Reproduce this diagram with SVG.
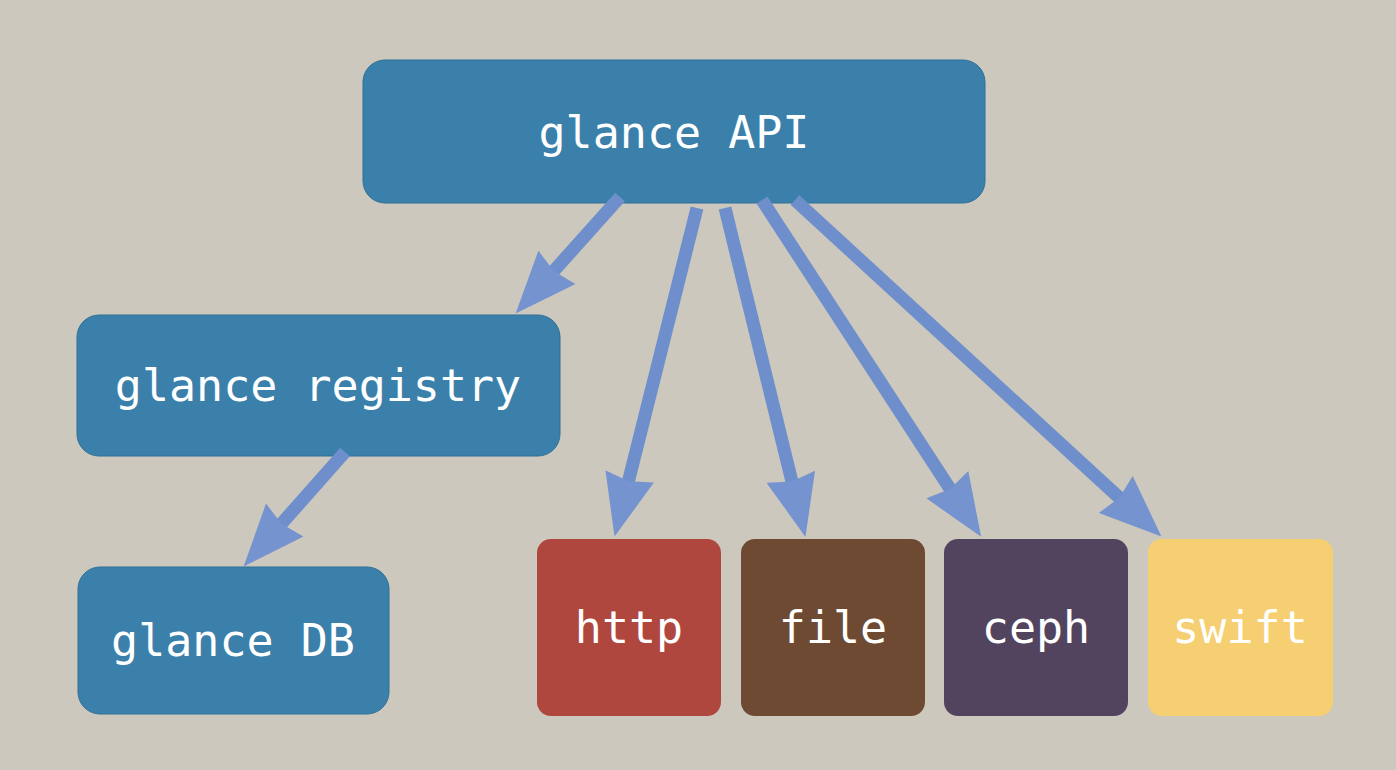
<svg xmlns="http://www.w3.org/2000/svg" width="1396" height="770" viewBox="0 0 1396 770">
<style>
.b{fill:#3b80aa;stroke:#2f6f95;stroke-width:1}
text{font-family:"DejaVu Sans Mono",monospace;font-size:45px;fill:#fff;text-anchor:middle;dominant-baseline:central}
.c line{stroke:#6e8fcb;stroke-width:13;marker-end:url(#h)}
</style>
<defs>
<marker id="h" markerUnits="userSpaceOnUse" markerWidth="62" markerHeight="50" refX="15" refY="25" orient="auto" viewBox="0 0 62 50">
<path d="M0,0 L62,25 L0,50 L5,25 z" fill="#7593cf"/>
</marker>
</defs>
<rect width="1396" height="770" fill="#cdc8bd"/>
<g id="api"><rect class="b" x="363" y="60" width="622" height="143" rx="22"/><text x="674" y="132">glance API</text></g>
<g id="registry"><rect class="b" x="77" y="315" width="483" height="141" rx="22"/><text x="318" y="385">glance registry</text></g>
<g id="db"><rect class="b" x="78" y="567" width="311" height="147" rx="22"/><text x="233" y="640">glance DB</text></g>
<g id="http"><rect x="537" y="539" width="184" height="177" rx="14" fill="#b0473f"/><text x="629" y="627">http</text></g>
<g id="file"><rect x="741" y="539" width="184" height="177" rx="14" fill="#6e4a32"/><text x="833" y="627">file</text></g>
<g id="ceph"><rect x="944" y="539" width="184" height="177" rx="14" fill="#52445e"/><text x="1036" y="627">ceph</text></g>
<g id="swift"><rect x="1148" y="539" width="185" height="177" rx="14" fill="#f5cf72"/><text x="1240" y="627">swift</text></g>
<g class="c" id="connectors">
<line x1="620" y1="197" x2="547" y2="278.5"/>
<line x1="697" y1="208" x2="626" y2="491"/>
<line x1="725" y1="208" x2="794.3" y2="491.3"/>
<line x1="762" y1="200" x2="955.5" y2="497.3"/>
<line x1="795" y1="200" x2="1126.8" y2="504.6"/>
<line x1="345" y1="452" x2="274.8" y2="531.3"/>
</g>
</svg>
